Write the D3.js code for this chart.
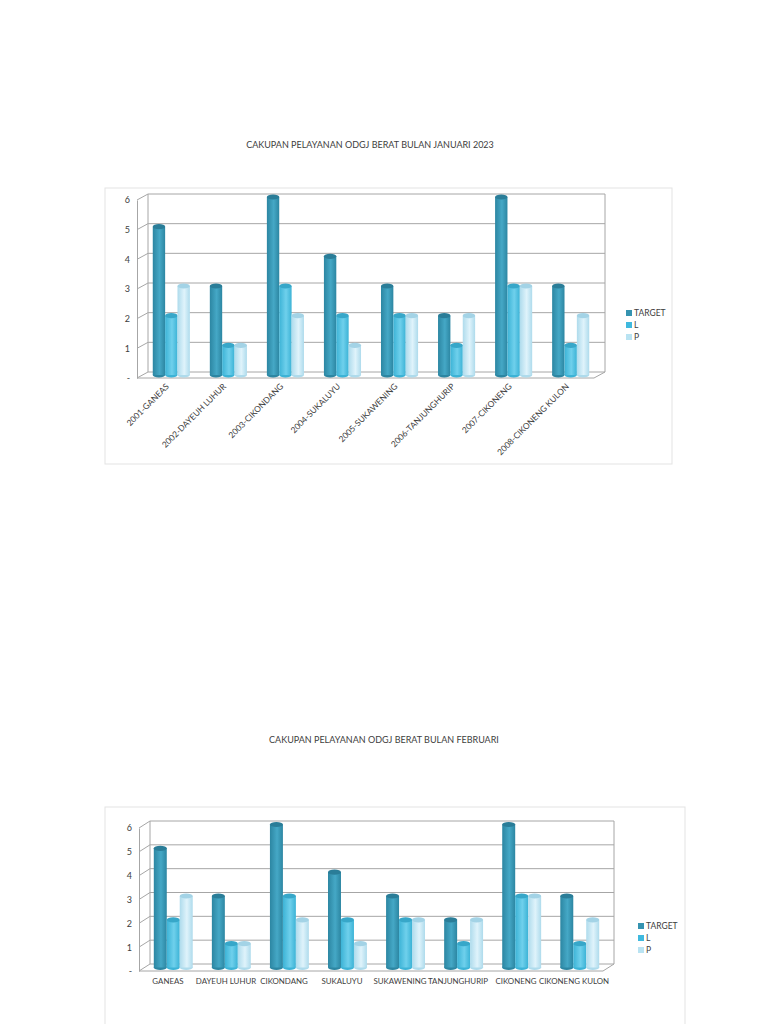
<!DOCTYPE html>
<html lang="en">
<head>
    <title>Cakupan Pelayanan ODGJ Berat</title>
    <script src="https://d3js.org/d3.v7.min.js"></script>
    <style>
        body { margin: 0; background: #fff; }
        text { font-family: Lato, "Open Sans", sans-serif; fill: #404040; }
        .grid line { stroke: #a6a6a6; stroke-width: 1; }
        .y-axis path { stroke: #a6a6a6; }
        .y-axis text { font-size: 9px; }
    </style>
</head>
<body>

<script>
    const categoriesJan = ["2001-GANEAS", "2002-DAYEUH LUHUR", "2003-CIKONDANG", "2004-SUKALUYU",
        "2005-SUKAWENING", "2006-TANJUNGHURIP", "2007-CIKONENG", "2008-CIKONENG KULON"];
    const categoriesFeb = ["GANEAS", "DAYEUH LUHUR", "CIKONDANG", "SUKALUYU",
        "SUKAWENING", "TANJUNGHURIP", "CIKONENG", "CIKONENG KULON"];

    const series = ["TARGET", "L", "P"];
    const targetJan = [5, 3, 6, 4, 3, 2, 6, 3];
    const lJan = [2, 1, 3, 2, 2, 1, 3, 1];
    const pJan = [3, 1, 2, 1, 2, 2, 3, 2];
    const targetFeb = [5, 3, 6, 4, 3, 2, 6, 3];
    const lFeb = [2, 1, 3, 2, 2, 1, 3, 1];
    const pFeb = [3, 1, 2, 1, 2, 2, 3, 2];
    const yTicks = [0, 1, 2, 3, 4, 5, 6];
    const yTickLabels = ["-", "1", "2", "3", "4", "5", "6"];

    // dark edge, light middle, cap colour per series
    const colors = {
        TARGET: ["#2c86a2", "#45a8c6", "#2a7d98"],
        L: ["#3cb3d6", "#6fd0ec", "#37a7c9"],
        P: ["#aedbec", "#dff3fb", "#a3d3e6"]
    };
    const legendColors = {TARGET: "#3593b0", L: "#3fb9de", P: "#b9e3f2"};

    const svg = d3.select("body").append("svg")
        .attr("width", 768).attr("height", 1024);

    const defs = svg.append("defs");
    series.forEach(s => {
        const g = defs.append("linearGradient").attr("id", "grad-" + s)
            .attr("x1", "0%").attr("x2", "100%").attr("y1", "0%").attr("y2", "0%");
        g.append("stop").attr("offset", "0%").attr("stop-color", colors[s][0]);
        g.append("stop").attr("offset", "55%").attr("stop-color", colors[s][1]);
        g.append("stop").attr("offset", "100%").attr("stop-color", colors[s][0]);
    });

    function drawChart(o) {
        const g = svg.append("g");

        g.append("rect")
            .attr("x", o.frame[0]).attr("y", o.frame[1])
            .attr("width", o.frame[2]).attr("height", o.frame[3])
            .attr("fill", "#fff").attr("stroke", "#e3e3e3");

        g.append("text")
            .attr("x", o.titleX).attr("y", o.titleY)
            .attr("text-anchor", "middle")
            .style("font-size", "9px")
            .text(o.title);

        const [dx, dy] = o.depth;
        const y = d3.scaleLinear().domain([0, 6]).range([o.y0, o.y6]);
        const xFront = d3.scaleBand().domain(o.cats).range([o.x0, o.x1]);
        const xMid = d3.scaleBand().domain(o.cats)
            .range([o.x0 + dx / 2, o.x1 + dx / 2])
            .paddingInner(o.padIn).paddingOuter(o.padOut);
        const xSeries = d3.scaleBand().domain(series).range([0, xMid.bandwidth()]);

        // walls and gridlines
        const grid = g.append("g").attr("class", "grid");
        yTicks.forEach(v => {
            grid.append("line")
                .attr("x1", o.x0).attr("y1", y(v))
                .attr("x2", o.x0 + dx).attr("y2", y(v) + dy);
            grid.append("line")
                .attr("x1", o.x0 + dx).attr("y1", y(v) + dy)
                .attr("x2", o.x1 + dx).attr("y2", y(v) + dy);
        });
        grid.append("line")
            .attr("x1", o.x0 + dx).attr("y1", y(0) + dy)
            .attr("x2", o.x0 + dx).attr("y2", y(6) + dy);
        grid.append("line")
            .attr("x1", o.x1 + dx).attr("y1", y(0) + dy)
            .attr("x2", o.x1 + dx).attr("y2", y(6) + dy);
        grid.append("line")
            .attr("x1", o.x0).attr("y1", y(0))
            .attr("x2", o.x1).attr("y2", y(0));
        grid.append("line")
            .attr("x1", o.x1).attr("y1", y(0))
            .attr("x2", o.x1 + dx).attr("y2", y(0) + dy);

        const yAxis = d3.axisLeft(y).tickValues(yTicks)
            .tickFormat((d, i) => yTickLabels[i])
            .tickSize(0).tickPadding(7);
        g.append("g").attr("class", "y-axis")
            .attr("transform", `translate(${o.x0},0)`)
            .call(yAxis)
            .selectAll("text").style("fill", "#404040");

        // cylinders
        const ry = 2.6;
        const yb = v => y(v) + dy / 2;
        o.values.forEach((vals, si) => {
            const s = series[si];
            const bars = g.append("g").selectAll("g")
                .data(vals).enter().append("g")
                .attr("transform", (d, i) => `translate(${xMid(o.cats[i]) + xSeries(s)},0)`);
            const w = xSeries.bandwidth();
            bars.append("ellipse")
                .attr("cx", w / 2).attr("cy", yb(0))
                .attr("rx", w / 2).attr("ry", ry)
                .attr("fill", colors[s][0]);
            bars.append("rect")
                .attr("x", 0).attr("width", w)
                .attr("y", d => yb(d)).attr("height", d => yb(0) - yb(d))
                .attr("fill", `url(#grad-${s})`);
            bars.append("ellipse")
                .attr("cx", w / 2).attr("cy", d => yb(d))
                .attr("rx", w / 2).attr("ry", ry)
                .attr("fill", colors[s][2]);
        });

        // category labels
        const labels = g.append("g").selectAll("text")
            .data(o.cats).enter().append("text")
            .style("font-size", o.labelSize);
        if (o.rotate) {
            labels.attr("text-anchor", "end")
                .attr("transform", d => `translate(${xFront(d) + xFront.bandwidth() / 2 + 4},${y(0) + 9}) rotate(-45)`)
                .text(d => d);
        } else {
            labels.attr("text-anchor", "middle")
                .attr("x", d => xFront(d) + xFront.bandwidth() / 2)
                .attr("y", y(0) + 13)
                .text(d => d);
        }

        // legend
        const legend = g.append("g").selectAll("g")
            .data(series).enter().append("g")
            .attr("transform", (d, i) => `translate(${o.legendX},${o.legendY + i * 12})`);
        legend.append("rect")
            .attr("x", 0).attr("y", -3).attr("width", 6).attr("height", 6)
            .attr("fill", d => legendColors[d]);
        legend.append("text")
            .attr("x", 8).attr("y", 3)
            .style("font-size", "8.5px")
            .text(d => d);
    }

    drawChart({
        title: "CAKUPAN PELAYANAN ODGJ BERAT BULAN JANUARI 2023",
        titleX: 370, titleY: 148,
        frame: [105, 188, 567, 276],
        cats: categoriesJan,
        values: [targetJan, lJan, pJan],
        x0: 137, x1: 594, y0: 378, y6: 200,
        depth: [11, -6],
        padIn: 0.35, padOut: 0.18,
        rotate: true, labelSize: "8.4px",
        legendX: 626, legendY: 313
    });

    drawChart({
        title: "CAKUPAN PELAYANAN ODGJ BERAT BULAN FEBRUARI",
        titleX: 384, titleY: 743,
        frame: [105, 807, 580, 230],
        cats: categoriesFeb,
        values: [targetFeb, lFeb, pFeb],
        x0: 139, x1: 603, y0: 971, y6: 828,
        depth: [11, -7],
        padIn: 0.33, padOut: 0.16,
        rotate: false, labelSize: "7.9px",
        legendX: 638, legendY: 926
    });
</script>

</body>
</html>
